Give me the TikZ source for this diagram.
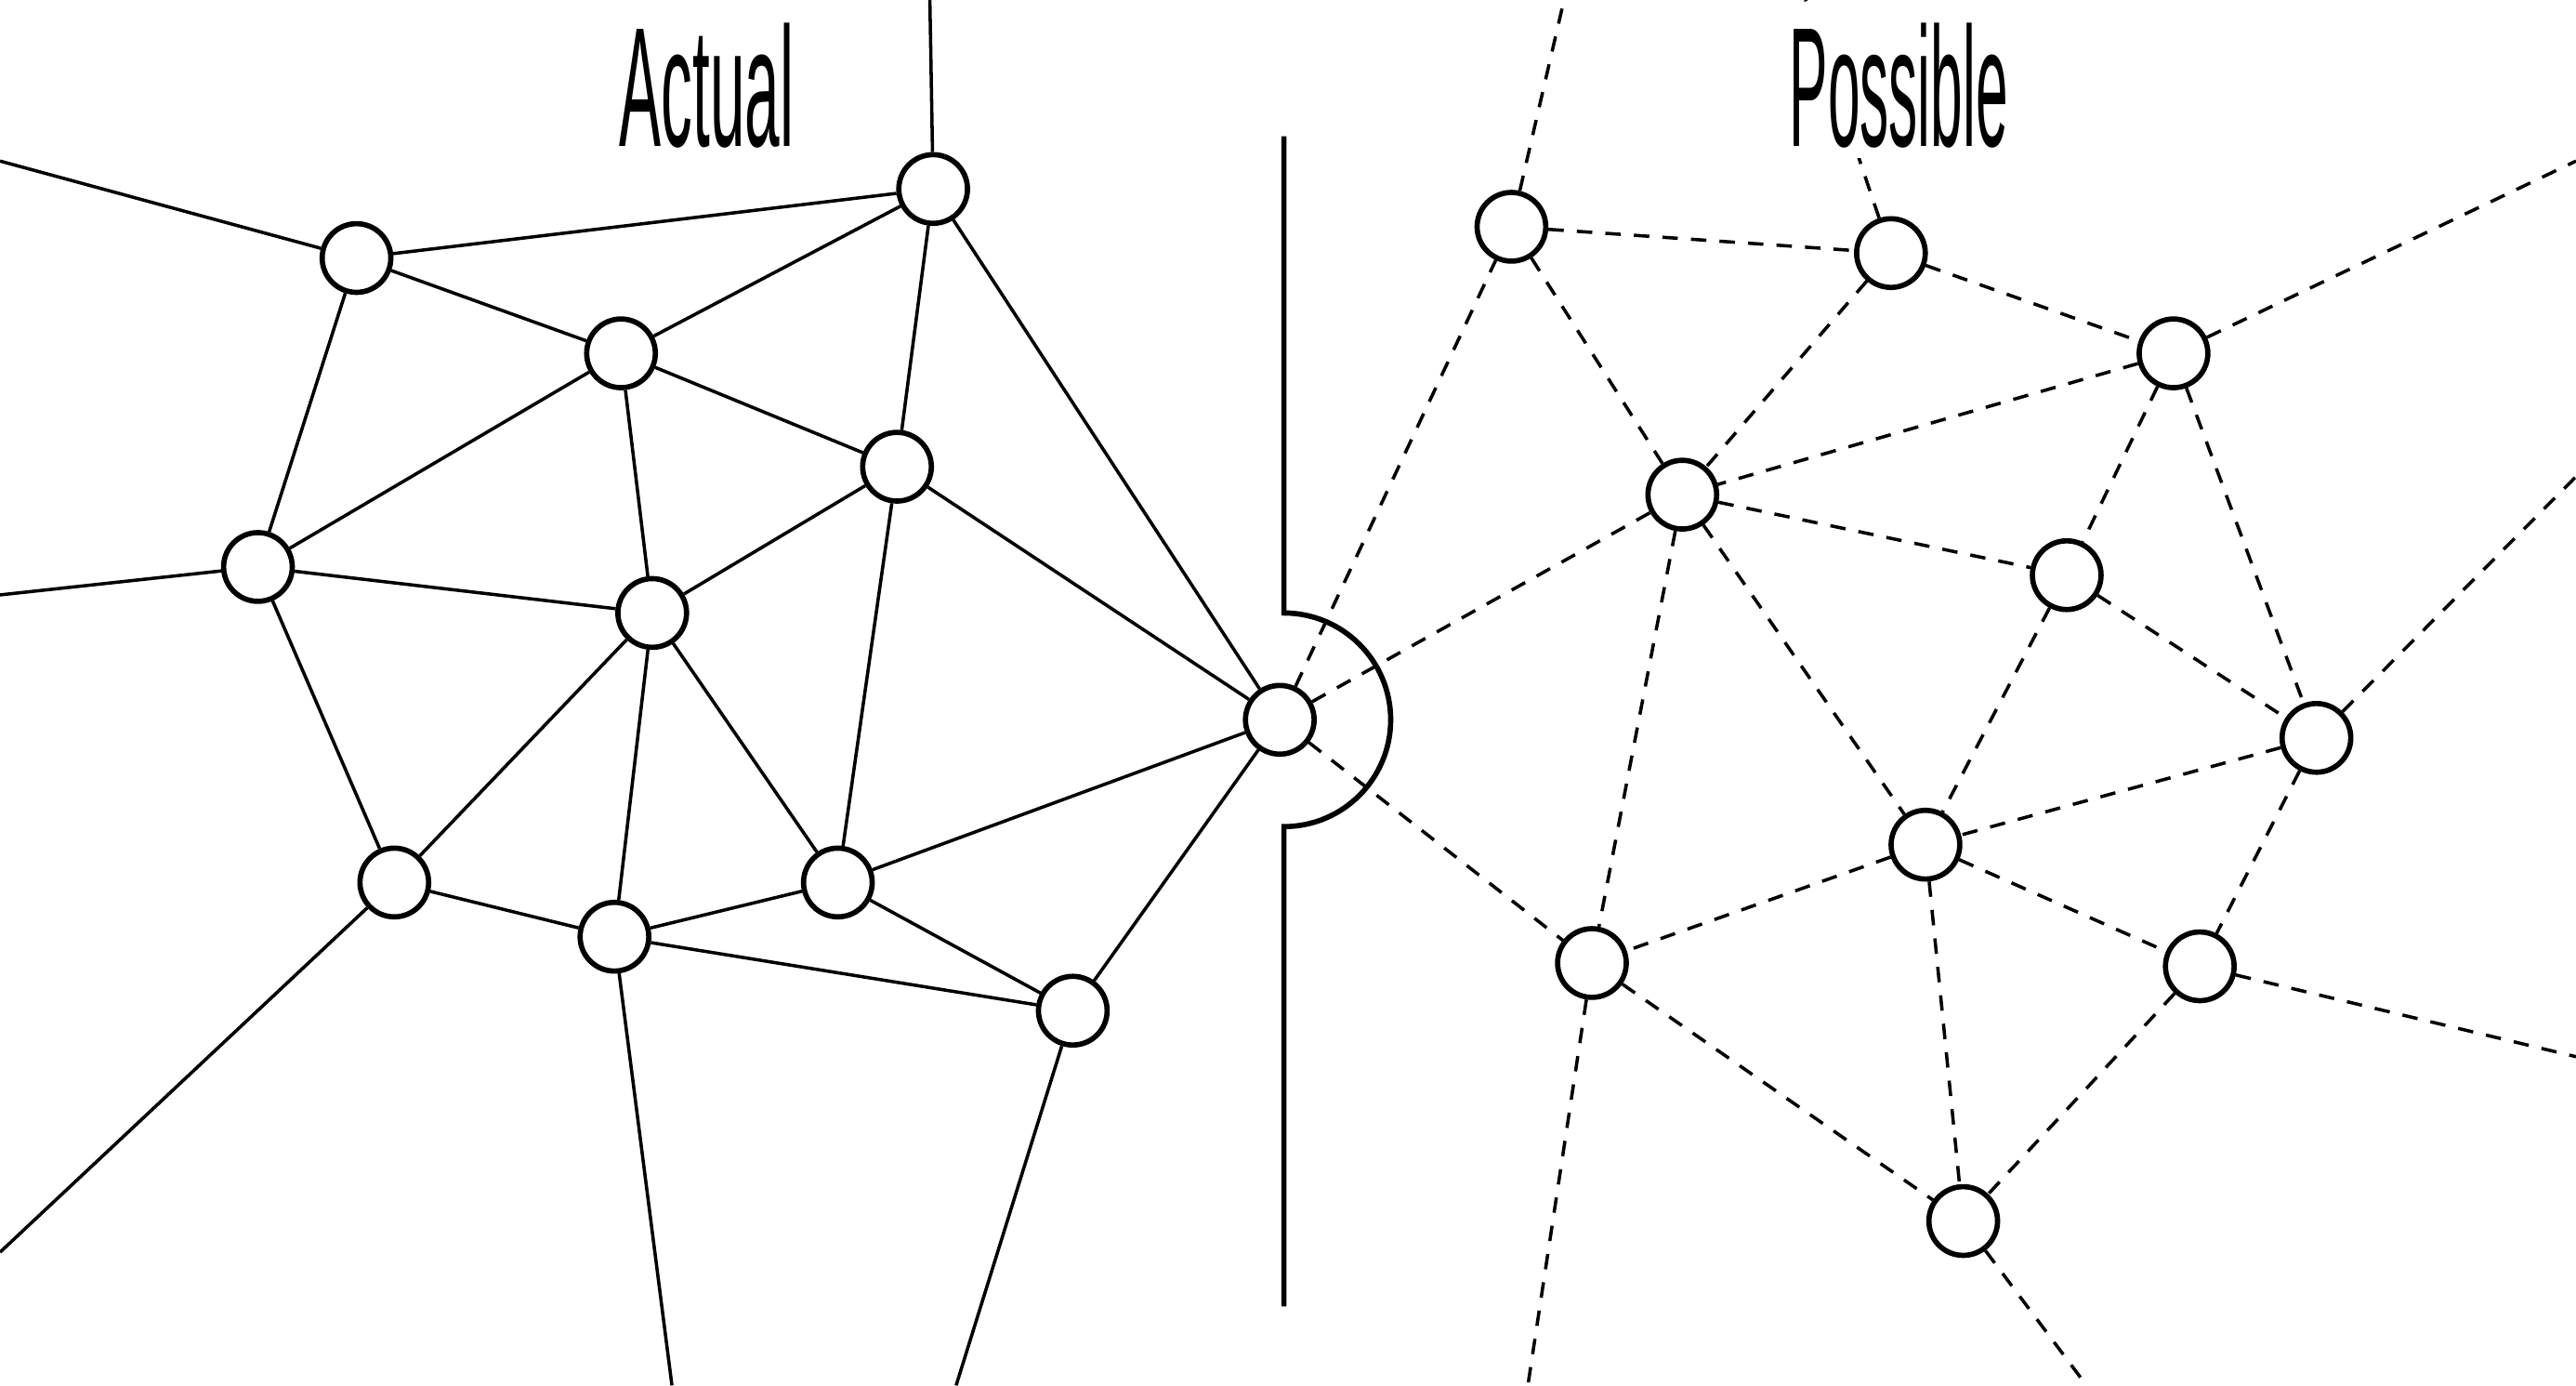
\documentclass[tikz,border=0pt]{standalone}
\usepackage{fontspec}
\setmainfont{Liberation Sans}
\begin{document}
\begin{tikzpicture}[x=1pt,y=-1pt,
  vtx/.style={circle,draw,fill=white,line width=3.2pt,minimum size=41.8pt,inner sep=0pt},
  actedge/.style={line width=2pt},
  posedge/.style={line width=2pt,dash pattern=on 9.4pt off 8pt},
  wallline/.style={line width=3.2pt},
  titletext/.style={anchor=base west,inner sep=0pt}]
\useasboundingbox (0,0) rectangle (1568,843);
% border coordinates
\coordinate (eA1) at (0,98);
\coordinate (eA2) at (566,0);
\coordinate (eA5) at (0,362);
\coordinate (eA8) at (0,762);
\coordinate (eA10) at (409,843);
\coordinate (eA11) at (582,843);
\coordinate (eP1) at (952,0);
\coordinate (eP2) at (1099,0);
\coordinate (eP3) at (1568,98);
\coordinate (eP6) at (1568,290);
\coordinate (eP9) at (1568,643);
\coordinate (eP8) at (930,843);
\coordinate (eP10) at (1270,843);
% Actual nodes
\node[vtx] (A1) at (217,157) {};
\node[vtx] (A2) at (568,115) {};
\node[vtx] (A3) at (378,215) {};
\node[vtx] (A4) at (546,284) {};
\node[vtx] (A5) at (157,345) {};
\node[vtx] (A6) at (397,373) {};
\node[vtx] (A7) at (779,438) {};
\node[vtx] (A8) at (240,537) {};
\node[vtx] (A9) at (510,537) {};
\node[vtx] (A10) at (374,570) {};
\node[vtx] (A11) at (653,615) {};
% Possible nodes
\node[vtx] (P1) at (920,138) {};
\node[vtx] (P2) at (1151,154) {};
\node[vtx] (P3) at (1323,215) {};
\node[vtx] (P4) at (1024,301) {};
\node[vtx] (P5) at (1258,350) {};
\node[vtx] (P6) at (1410,449) {};
\node[vtx] (P7) at (1172,514) {};
\node[vtx] (P8) at (969,586) {};
\node[vtx] (P9) at (1339,588) {};
\node[vtx] (P10) at (1195,743) {};
% Actual edges
\draw[actedge] (eA1) -- (A1);
\draw[actedge] (A1) -- (A2);
\draw[actedge] (A2) -- (eA2);
\draw[actedge] (A1) -- (A3);
\draw[actedge] (A1) -- (A5);
\draw[actedge] (A3) -- (A2);
\draw[actedge] (A3) -- (A4);
\draw[actedge] (A3) -- (A5);
\draw[actedge] (A3) -- (A6);
\draw[actedge] (A2) -- (A4);
\draw[actedge] (A2) -- (A7);
\draw[actedge] (A4) -- (A6);
\draw[actedge] (A4) -- (A9);
\draw[actedge] (A4) -- (A7);
\draw[actedge] (A5) -- (eA5);
\draw[actedge] (A5) -- (A6);
\draw[actedge] (A5) -- (A8);
\draw[actedge] (A6) -- (A8);
\draw[actedge] (A6) -- (A10);
\draw[actedge] (A6) -- (A9);
\draw[actedge] (A8) -- (A10);
\draw[actedge] (A8) -- (eA8);
\draw[actedge] (A10) -- (A9);
\draw[actedge] (A10) -- (A11);
\draw[actedge] (A10) -- (eA10);
\draw[actedge] (A9) -- (A7);
\draw[actedge] (A9) -- (A11);
\draw[actedge] (A11) -- (A7);
\draw[actedge] (A11) -- (eA11);
% Possible edges
\draw[posedge] (P1) -- (eP1);
\draw[posedge] (P2) -- (eP2);
\draw[posedge] (P1) -- (P2);
\draw[posedge] (P1) -- (P4);
\draw[posedge] (A7) -- (P1);
\draw[posedge] (P2) -- (P3);
\draw[posedge] (P2) -- (P4);
\draw[posedge] (P3) -- (eP3);
\draw[posedge] (P3) -- (P4);
\draw[posedge] (P3) -- (P5);
\draw[posedge] (P3) -- (P6);
\draw[posedge] (P4) -- (P5);
\draw[posedge] (P4) -- (P7);
\draw[posedge] (P4) -- (P8);
\draw[posedge] (A7) -- (P4);
\draw[posedge] (P5) -- (P7);
\draw[posedge] (P5) -- (P6);
\draw[posedge] (P6) -- (eP6);
\draw[posedge] (P6) -- (P7);
\draw[posedge] (P6) -- (P9);
\draw[posedge] (P7) -- (P8);
\draw[posedge] (P7) -- (P9);
\draw[posedge] (P7) -- (P10);
\draw[posedge] (A7) -- (P8);
\draw[posedge] (P8) -- (P10);
\draw[posedge] (P8) -- (eP8);
\draw[posedge] (P9) -- (eP9);
\draw[posedge] (P9) -- (P10);
\draw[posedge] (P10) -- (eP10);
% wall with bump
\draw[wallline] (781.5,83) -- (781.5,373) arc[start angle=-90,end angle=90,radius=65] -- (781.5,795);
% titles
\node[titletext] (tA) at (377,89) {\resizebox{106pt}{75pt}{Actual}};
\node[titletext,fill=white,inner sep=6pt] (tP) at (1083,89) {\resizebox{133pt}{75pt}{Possible}};
\end{tikzpicture}
\end{document}
